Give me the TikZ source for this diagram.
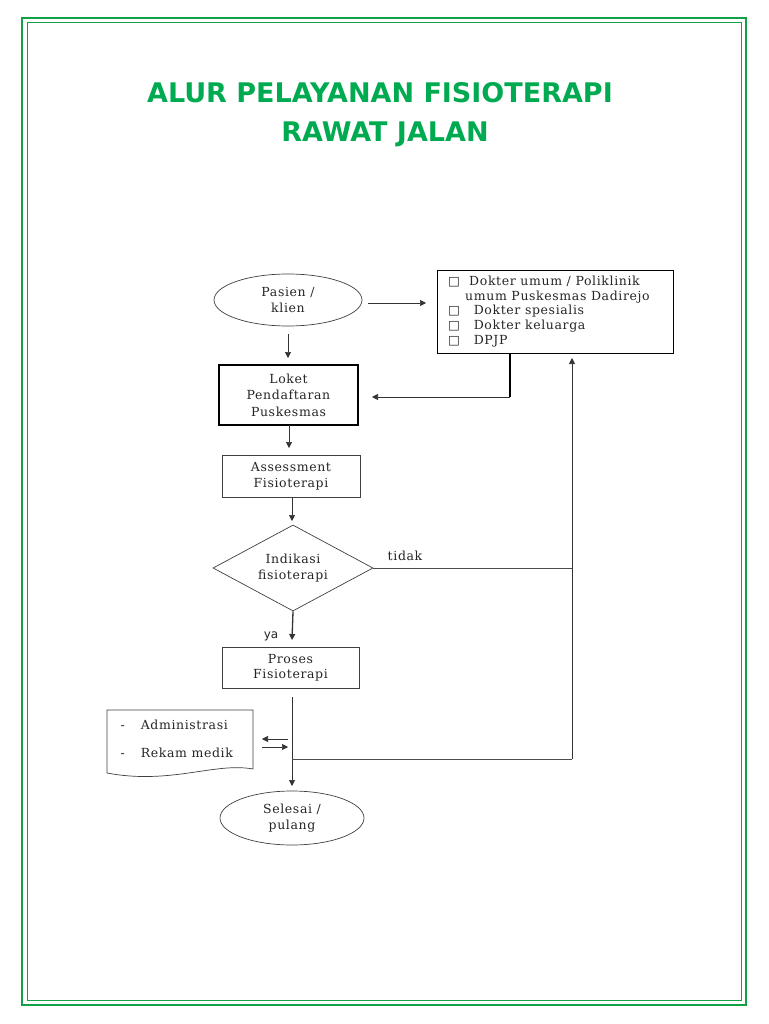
\documentclass[tikz,border=0pt]{standalone}
\usepackage{fontspec}
\setmainfont[LetterSpace=5]{DejaVu Serif}
\newfontfamily\titlefont{DejaVu Sans}
\newfontfamily\sqfont{DejaVu Sans}
\usetikzlibrary{shapes.geometric,arrows.meta}
\definecolor{frameg}{RGB}{20,160,70}
\definecolor{titleg}{RGB}{0,170,80}
\tikzset{
  every node/.style={font=\fontsize{12.5}{15.5}\selectfont, text=black!85},
  boxn/.style={draw=black!75, line width=0.8pt, align=center, minimum width=138pt, inner sep=1pt},
  arr/.style={-{Triangle[length=6pt,width=6pt]}, black!80, line width=0.7pt},
  ln/.style={black!70, line width=0.7pt},
}
\begin{document}
\begin{tikzpicture}[x=1pt,y=-1pt]
\useasboundingbox (0,0) rectangle (768,1024);
\fill[white] (0,0) rectangle (768,1024);
\draw[frameg, line width=2pt] (22,18) rectangle (746,1005);
\draw[frameg, line width=1pt] (27,23) rectangle (741,1000);
\node[font=\titlefont\bfseries\fontsize{27}{30}\selectfont, text=titleg] (t1) at (380,93) {ALUR PELAYANAN FISIOTERAPI};
\node[font=\titlefont\bfseries\fontsize{27}{30}\selectfont, text=titleg] (t2) at (385,134) {RAWAT JALAN};

\node[draw=black!75, line width=0.7pt, ellipse, minimum width=148pt, minimum height=52pt, inner sep=0pt, align=center] (pas) at (288,300) {Pasien /\\klien};
\node[draw=black, line width=1pt, minimum width=236pt, minimum height=83pt] (dok) at (555,311.5) {};
\node[anchor=north west, align=left, inner sep=0pt, font=\fontsize{12.5}{14.6}\selectfont] (dokt) at (448,276) {{\sqfont □}\ \ Dokter umum / Poliklinik\\
\hspace*{17pt}umum Puskesmas Dadirejo\\
{\sqfont □}\ \ \ Dokter spesialis\\
{\sqfont □}\ \ \ Dokter keluarga\\
{\sqfont □}\ \ \ DPJP};
\node[boxn, line width=1.3pt, draw=black, minimum width=139pt, minimum height=60pt, font=\fontsize{12.5}{16.5}\selectfont] (lok) at (288.5,395) {Loket\\Pendaftaran\\Puskesmas};
\node[boxn, minimum height=42pt] (ass) at (291,476) {Assessment\\Fisioterapi};
\node[draw=black!75, line width=0.7pt, diamond, aspect=1.86, minimum width=160pt, minimum height=86pt, inner sep=0pt, align=center] (ind) at (293,568) {Indikasi\\fisioterapi};
\node[boxn, minimum width=137pt, minimum height=41pt] (pro) at (290.5,667.5) {Proses\\Fisioterapi};
\draw[black!75, line width=0.7pt] (107,710) -- (253,710) -- (253,769) .. controls (215,762) and (170,785) .. (107,773) -- cycle;
\node[anchor=west] (adm) at (117,725) {-\hspace{16pt}Administrasi};
\node[anchor=west] (rek) at (117,753) {-\hspace{16pt}Rekam medik};
\node[draw=black!75, line width=0.7pt, ellipse, minimum width=144pt, minimum height=54pt, inner sep=0pt, align=center] (sel) at (292,818) {Selesai /\\pulang};

\node (tid) at (405,556) {tidak};
\node[font=\sqfont\fontsize{12}{14}\selectfont] (ya) at (271,636) {ya};

\coordinate (a1) at (368,303);
\coordinate (a2) at (426,303);
\draw[arr] (a1) -- (a2);
\draw[arr] (pas.south) ++(0,8) -- (288,358);
\coordinate (db) at (510,353);
\coordinate (dc) at (510,397);
\draw[black, line width=1.6pt] (db) -- (dc);
\draw[arr] (dc) -- (372,397);
\draw[arr] (289,425) -- (289,448);
\draw[arr] (292,497) -- (292,521);
\draw[arr, line width=1.3pt] (ind.south) -- (292,640);
\coordinate (r1) at (572,568);
\coordinate (r2) at (572,759);
\coordinate (r3) at (572,358);
\draw[ln] (ind.east) -- (r1);
\draw[arr] (r2) -- (r3);
\coordinate (p1) at (292,697);
\coordinate (p2) at (292,759);
\draw[arr] (p1) -- (292,786);
\draw[ln] (p2) -- (r2);
\draw[arr, line width=0.6pt] (288,739) -- (262,739);
\draw[arr, line width=0.6pt] (262,747) -- (288,747);
\end{tikzpicture}
\end{document}
